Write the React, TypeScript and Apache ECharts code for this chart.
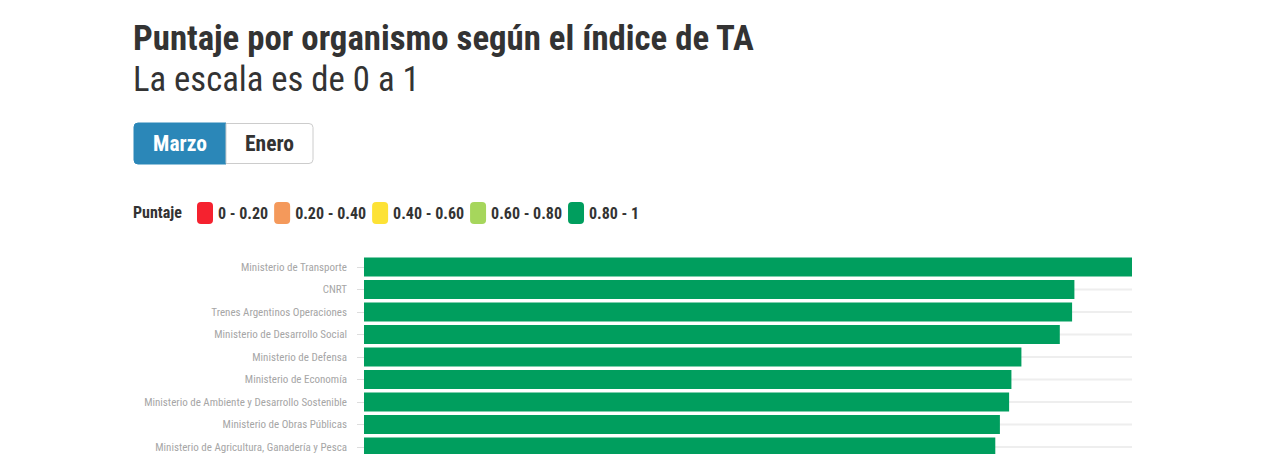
import React, { useEffect, useRef } from "react";
import * as echarts from "echarts";

const titleText = "Puntaje por organismo según el índice de TA";
const subtitleText = "La escala es de 0 a 1";
const months = ["Marzo", "Enero"];
const legendTitle = "Puntaje";

const categories = [
  "Ministerio de Transporte",
  "CNRT",
  "Trenes Argentinos Operaciones",
  "Ministerio de Desarrollo Social",
  "Ministerio de Defensa",
  "Ministerio de Economía",
  "Ministerio de Ambiente y Desarrollo Sostenible",
  "Ministerio de Obras Públicas",
  "Ministerio de Agricultura, Ganadería y Pesca",
];
const values = [1.0, 0.925, 0.922, 0.906, 0.856, 0.843, 0.84, 0.828, 0.822];

const rangeLabels = ["0 - 0.20", "0.20 - 0.40", "0.40 - 0.60", "0.60 - 0.80", "0.80 - 1"];
const rangeUpper = [0.2, 0.4, 0.6, 0.8, 1];
const rangeColors = ["#f5222f", "#f4995b", "#fde235", "#a6d65c", "#009e5e"];

const scaleMax = 1;

const FONT = "'Roboto Condensed', 'Liberation Sans Narrow', 'DejaVu Sans Condensed', 'Arial Narrow', Roboto, sans-serif";

function colorFor(v: number) {
  for (let i = 0; i < rangeUpper.length; i++) {
    if (v < rangeUpper[i] || i === rangeUpper.length - 1) return rangeColors[i];
  }
  return rangeColors[rangeColors.length - 1];
}

export default function App() {
  const ref = useRef<HTMLDivElement>(null);
  useEffect(() => {
    document.body.style.margin = "0";
    const chart = echarts.init(ref.current!, undefined, { renderer: "svg" });
    chart.setOption({
      animation: false,
      textStyle: { fontFamily: FONT },
      title: [
        {
          text: titleText,
          left: 133,
          top: 20.5,
          padding: 0,
          textStyle: { fontFamily: FONT, fontSize: 34.8, fontWeight: "bold", color: "#333" },
        },
        {
          text: subtitleText,
          left: 133,
          top: 61,
          padding: 0,
          textStyle: { fontFamily: FONT, fontSize: 34.7, fontWeight: 400, color: "#333" },
        },
      ],
      legend: {
        left: 197,
        top: 202,
        padding: 0,
        icon: "roundRect",
        itemWidth: 16,
        itemHeight: 22,
        itemGap: 6,
        selectedMode: false,
        data: rangeLabels,
        textStyle: { fontFamily: FONT, fontSize: 16, fontWeight: "bold", color: "#333" },
      },
      graphic: [
        {
          type: "text",
          left: 133,
          top: 204,
          style: { text: legendTitle, font: `bold 16px ${FONT}`, fill: "#333" },
        },
        {
          type: "rect",
          shape: { x: 134, y: 123, width: 92, height: 41, r: [4, 0, 0, 4] },
          style: { fill: "#2b87b8", stroke: "#2b87b8" },
        },
        {
          type: "rect",
          shape: { x: 226, y: 123.5, width: 87, height: 40, r: [0, 4, 4, 0] },
          style: { fill: "#fff", stroke: "#cccccc", lineWidth: 1 },
        },
        {
          type: "text",
          x: 180,
          y: 143.5,
          style: { text: months[0], font: `bold 21.5px ${FONT}`, fill: "#fff", align: "center", verticalAlign: "middle" },
        },
        {
          type: "text",
          x: 269.5,
          y: 143.5,
          style: { text: months[1], font: `bold 21.5px ${FONT}`, fill: "#333", align: "center", verticalAlign: "middle" },
        },
      ],
      grid: { left: 364, right: 148, top: 255.75, bottom: 11.75, containLabel: false },
      xAxis: { type: "value", min: 0, max: scaleMax, show: false },
      yAxis: [
        {
          type: "category",
          inverse: true,
          data: categories,
          offset: 2,
          axisLine: { show: false },
          axisTick: { show: true, length: 7, alignWithLabel: true, lineStyle: { color: "#dddddd" } },
          axisLabel: { margin: 15, fontFamily: FONT, fontSize: 11, color: "#a6a6a6" },
          splitLine: { show: false },
        },
        {
          type: "category",
          inverse: true,
          data: categories,
          position: "left",
          show: false,
        },
      ],
      series: [
        ...rangeLabels.map((name, i) => ({
          name,
          type: "line",
          data: [],
          itemStyle: { color: rangeColors[i] },
          lineStyle: { color: rangeColors[i] },
        })),
        {
          type: "bar",
          yAxisIndex: 1,
          barWidth: 2,
          silent: true,
          data: categories.map(() => scaleMax),
          itemStyle: { color: "#eeeeee" },
          z: 1,
        },
        {
          type: "bar",
          yAxisIndex: 0,
          barWidth: 19,
          data: values.map((v) => ({ value: v, itemStyle: { color: colorFor(v) } })),
          z: 2,
        },
      ],
    });
    return () => chart.dispose();
  }, []);
  return <div ref={ref} style={{ width: 1280, height: 470 }} />;
}
